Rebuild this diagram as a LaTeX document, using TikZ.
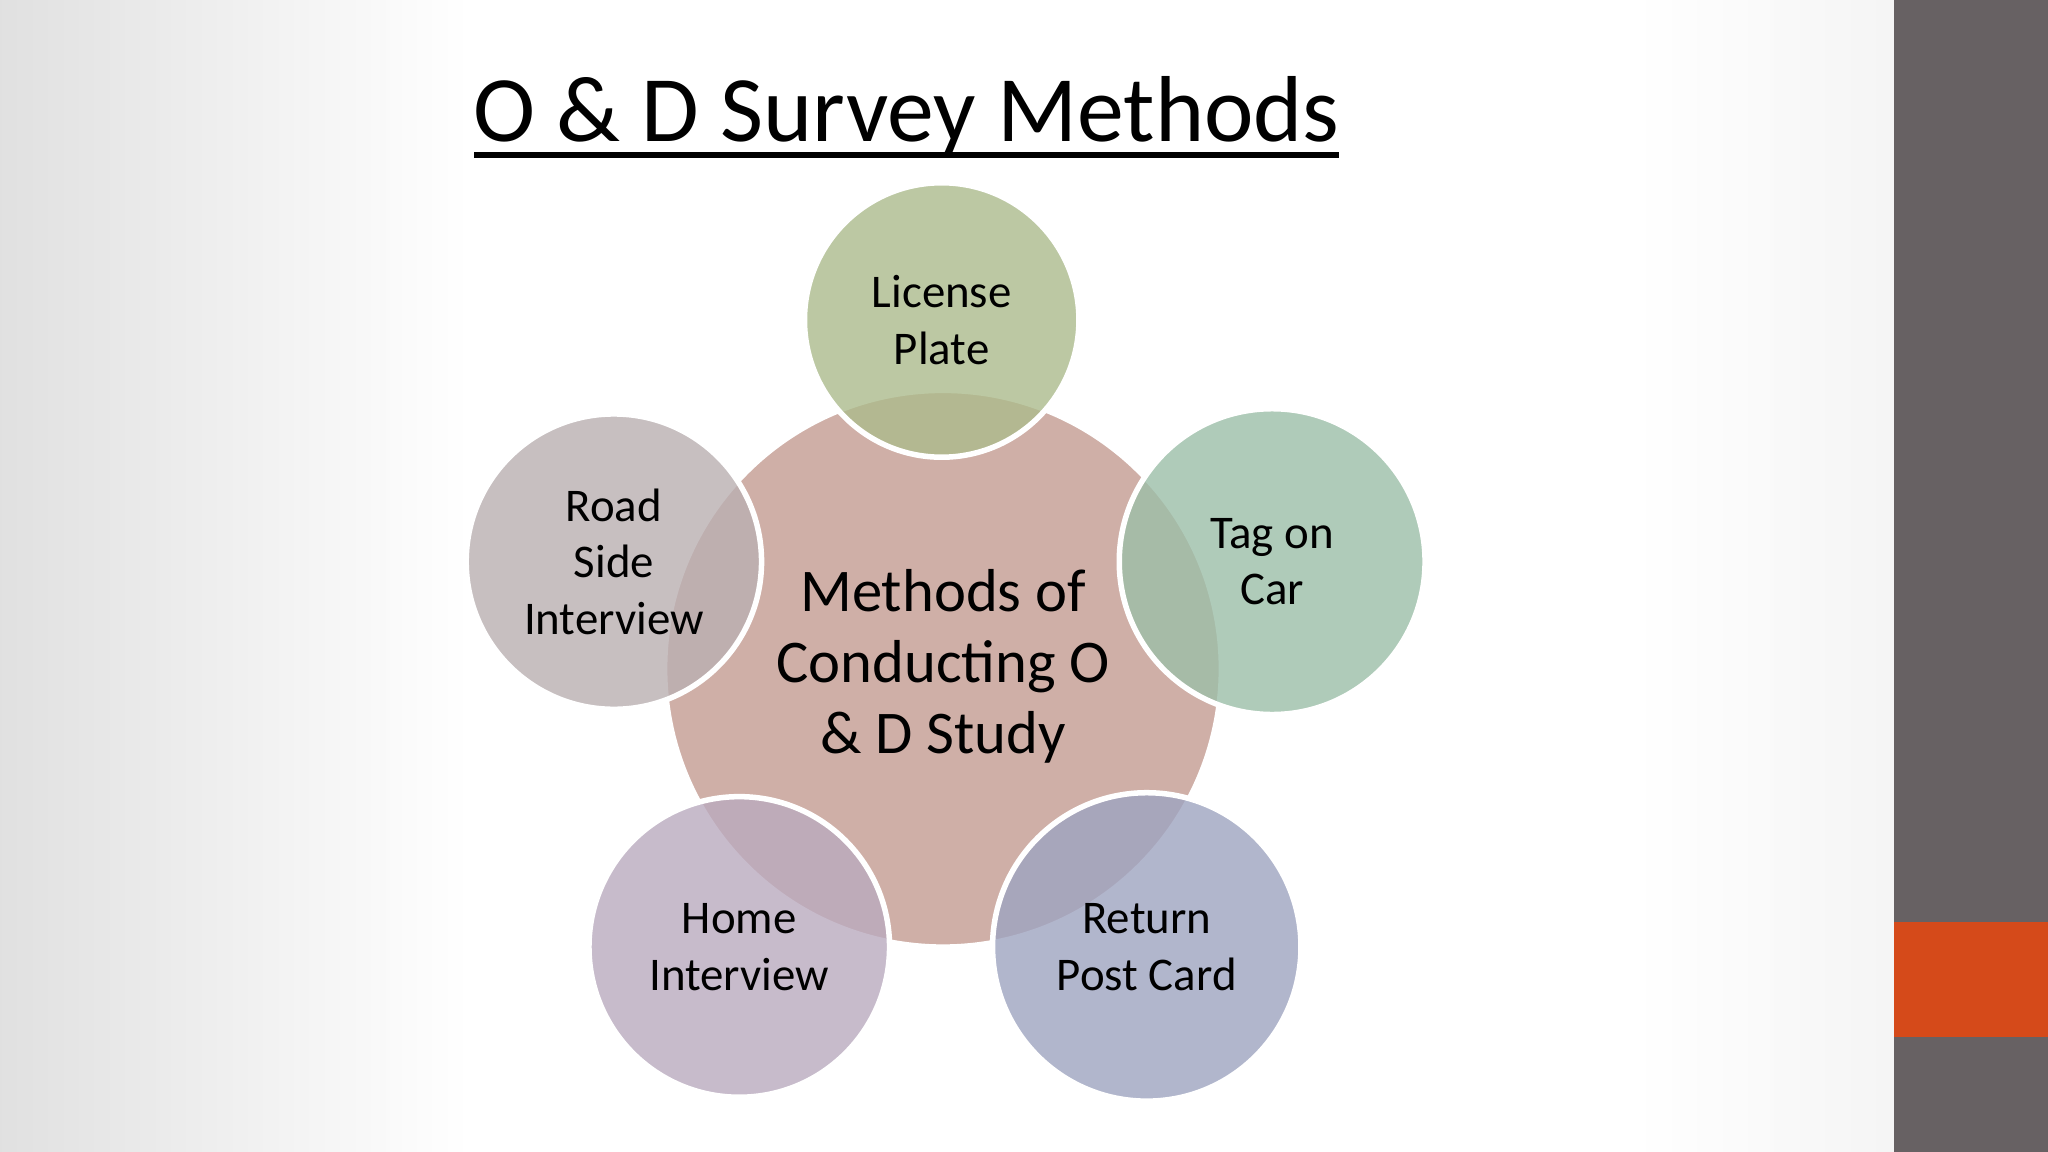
\documentclass[tikz,border=0pt]{standalone}
\usepackage{fontspec}
\setmainfont{Carlito}
\begin{document}
\begin{tikzpicture}[x=0.01cm,y=-0.01cm,
  bub/.style={circle,draw=white,line width=1.2pt,fill opacity=0.8,inner sep=0pt},
  lab/.style={align=center,font=\fontsize{10.2}{12.3}\selectfont}]
\useasboundingbox (0,0) rectangle (1568,882);
\shade[left color=black!12,right color=white] (0,0) rectangle (360,882);
\fill[white] (360,0) rectangle (1450,882);
\shade[left color=white,right color=black!4] (1250,0) rectangle (1450,882);
\fill[fill={rgb,255:red,103;green,97;blue,99}] (1450,0) rectangle (1568,882);
\fill[fill={rgb,255:red,213;green,74;blue,26}] (1450,706) rectangle (1568,794);
\node[anchor=base,font=\fontsize{20.4}{24}\selectfont] (title) at (694,108) {O \& D Survey Methods};
\draw[line width=1.3pt] (363,119) -- (1025,119);
\node[bub,minimum size=4.26cm,fill={rgb,255:red,196;green,156;blue,146}] (c) at (722,512) {};
\node[bub,minimum size=2.10cm,fill={rgb,255:red,172;green,187;blue,140}] (lp) at (721,245) {};
\node[bub,minimum size=2.34cm,fill={rgb,255:red,156;green,190;blue,168}] (tc) at (974,430) {};
\node[bub,minimum size=2.36cm,fill={rgb,255:red,158;green,164;blue,192}] (rp) at (878,725) {};
\node[bub,minimum size=2.30cm,fill={rgb,255:red,186;green,170;blue,190}] (hi) at (566,725) {};
\node[bub,minimum size=2.26cm,fill={rgb,255:red,186;green,175;blue,177}] (rs) at (470,430) {};
\node[lab] at (lp.center) {License\\Plate};
\node[lab] at (tc.center) {Tag on\\Car};
\node[lab] at (rp.center) {Return\\Post Card};
\node[lab] at (hi.center) {Home\\Interview};
\node[lab] at (rs.center) {Road\\Side\\Interview};
\node[align=center,font=\fontsize{13.2}{15.4}\selectfont] (ct) at (722,510) {Methods of\\Conducting O\\\& D Study};
\end{tikzpicture}
\end{document}
